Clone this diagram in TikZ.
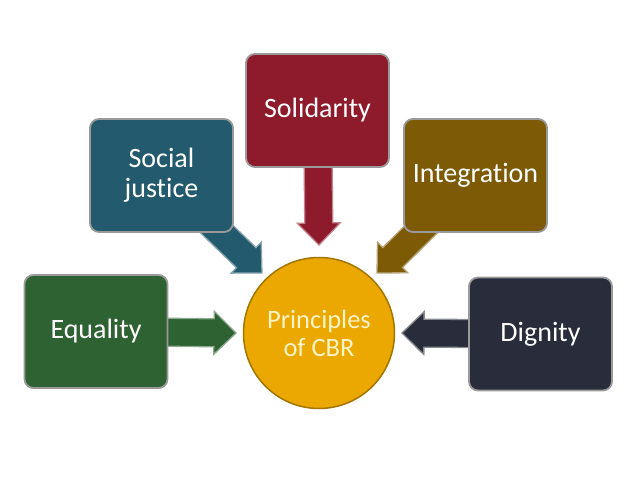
\documentclass[tikz,border=0pt]{standalone}
\usepackage{fontspec}
\setmainfont[Ligatures=NoCommon]{Carlito}
\usetikzlibrary{calc,backgrounds}
\definecolor{cEq}{HTML}{2E6232}
\definecolor{cSj}{HTML}{245A6E}
\definecolor{cSo}{HTML}{8E1B2C}
\definecolor{cIn}{HTML}{7C5A06}
\definecolor{cDi}{HTML}{292C3B}
\definecolor{cCi}{HTML}{EAA800}
\definecolor{rim}{HTML}{9A9A9A}
\definecolor{cirtext}{HTML}{FFF3C8}

\newcommand{\blockarrow}[3]{%
 \coordinate (hb) at ($(#2)!22pt!(#1)$);
 \filldraw[fill=#3, draw=#3!55!white, line width=1.3pt, line join=miter]
  ($(#1)!14pt!90:(#2)$) -- ($(hb)!14pt!-90:(#1)$) -- ($(hb)!21.5pt!-90:(#1)$) -- (#2)
  -- ($(hb)!21.5pt!90:(#1)$) -- ($(hb)!14pt!90:(#1)$) -- ($(#1)!14pt!-90:(#2)$) -- cycle;}

\begin{document}
\begin{tikzpicture}[x=1pt,y=-1pt,
  box/.style={rounded corners=9pt, minimum width=143pt, minimum height=113pt,
    draw=rim, line width=1.8pt, text=white, align=center, inner sep=0pt,
    font=\fontsize{28}{30}\selectfont},
  hub/.style={circle, minimum size=151pt, fill=cCi, draw=cCi!70!black, line width=1.5pt,
    text=cirtext, align=center, inner sep=0pt, font=\fontsize{26.5}{28}\selectfont}]
\useasboundingbox (0,0) rectangle (638,478);

\node[hub] (cbr) at (319,333) {Principles\\of CBR};
\node[box, fill=cEq] (eq) at (96,331.5) {Equality};
\node[box, fill=cSj] (sj) at (161.5,175.5) {Social\\justice};
\node[box, fill=cSo] (so) at (317.5,110.5) {Solidarity};
\node[box, fill=cIn] (in) at (475.5,175.5) {Integration};
\node[box, fill=cDi] (di) at (540.5,334) {Dignity};

\coordinate (tEq) at ($(cbr.center)+(-83,0)$);
\coordinate (tSo) at ($(cbr.center)+(0,-88)$);
\coordinate (tSj) at ($(cbr.center)+(-57,-60)$);
\coordinate (tIn) at ($(cbr.center)+(58,-60)$);
\coordinate (tDi) at ($(cbr.center)+(83,0)$);

\begin{pgfonlayer}{background}
\fill[white] (0,0) rectangle (638,478);
\blockarrow{eq.center}{tEq}{cEq}
\blockarrow{sj.center}{tSj}{cSj}
\blockarrow{so.center}{tSo}{cSo}
\blockarrow{in.center}{tIn}{cIn}
\blockarrow{di.center}{tDi}{cDi}
\end{pgfonlayer}
\end{tikzpicture}
\end{document}
